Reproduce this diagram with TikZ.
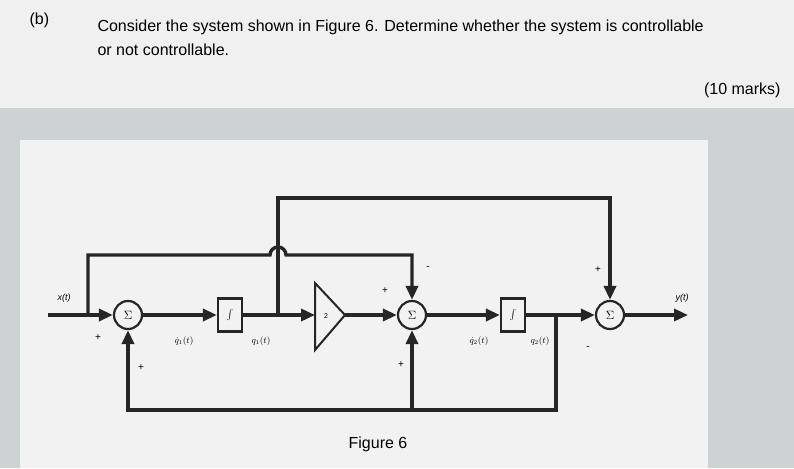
\documentclass[tikz,border=0pt]{standalone}
\usepackage{fontspec}
\setmainfont{Liberation Sans}
\usetikzlibrary{arrows.meta,shapes.geometric}
\begin{document}
\begin{tikzpicture}[x=1pt,y=-1pt,
  wire/.style={line width=3.4pt,draw=black!85},
  arr/.style={wire,-{Triangle[length=14pt,width=12pt]}},
  sumnode/.style={circle,draw=black!85,line width=2.2pt,minimum size=28pt,inner sep=0pt,font=\fontsize{13}{13}\selectfont,fill=gray!10},
  intbox/.style={draw=black!85,line width=2.2pt,minimum width=24pt,minimum height=33pt,inner sep=0pt,font=\fontsize{20}{20}\selectfont,fill=gray!10},
  sig/.style={font=\fontsize{10}{10}\selectfont,inner sep=1pt},
  lab/.style={font=\fontsize{9}{9}\selectfont\itshape,inner sep=1pt}]
\useasboundingbox (0,0) rectangle (794,468);
\fill[gray!12] (0,0) rectangle (794,108);
\fill[teal!10!gray!35] (0,108) rectangle (794,468);
\fill[gray!10] (20,140) rectangle (708,468);
\node[anchor=west,font=\fontsize{16}{19}\selectfont] (b) at (26,20) {(b)};
\node[anchor=west,font=\fontsize{16}{19}\selectfont] (t1) at (94,27) {Consider the system shown in Figure 6. Determine whether the system is controllable};
\node[anchor=west,font=\fontsize{16}{19}\selectfont] (t2) at (94,50) {or not controllable.};
\node[anchor=east,font=\fontsize{16}{19}\selectfont] (mk) at (784,90) {(10 marks)};

\coordinate (in) at (48,315);
\coordinate (bi) at (88,315);
\node[sumnode] (s1) at (128,315) {$\Sigma$};
\node[intbox] (i1) at (230,315) {$\int$};
\coordinate (b1) at (278,315);
\coordinate (gin) at (315,315);
\coordinate (gout) at (345,315);
\draw[draw=black!85,line width=2pt,fill=gray!10] (315,283) -- (gout) -- (315,350) -- cycle;
\node[font=\fontsize{7}{7}\selectfont] (gl) at (326,316) {2};
\node[sumnode] (s2) at (412,315) {$\Sigma$};
\node[intbox] (i2) at (513,315) {$\int$};
\coordinate (b2) at (556,315);
\node[sumnode] (s3) at (610,315) {$\Sigma$};
\coordinate (out) at (688,315);

\draw[wire] (in) -- (bi);
\draw[arr] (bi) -- (s1);
\draw[arr] (s1) -- (i1);
\draw[wire] (i1) -- (b1);
\draw[arr] (b1) -- (gin);
\draw[arr] (gout) -- (s2);
\draw[arr] (s2) -- (i2);
\draw[wire] (i2) -- (b2);
\draw[arr] (b2) -- (s3);
\draw[arr] (s3) -- (out);
\draw[arr] (bi) -- (88,255) -- (270,255) arc[start angle=180,end angle=360,radius=8] -- (412,255) -- (s2);
\draw[arr] (b1) -- (278,198) -- (610,198) -- (s3);
\draw[arr] (b2) -- (556,410) -- (128,410) -- (s1);
\draw[arr] (412,410) -- (s2);

\node[lab] (lx) at (64,298) {x(t)};
\node[lab] (ly) at (682,298) {y(t)};
\node[lab] (l1) at (184,341) {$\dot q_1(t)$};
\node[lab] (l2) at (261,341) {$q_1(t)$};
\node[lab] (l3) at (479,341) {$\dot q_2(t)$};
\node[lab] (l4) at (540,341) {$q_2(t)$};
\node[sig] at (98,338) {+};
\node[sig] at (141,368) {+};
\node[sig] at (385,291) {+};
\node[sig] at (428,268) {-};
\node[sig] at (401,365) {+};
\node[sig] at (598,270) {+};
\node[sig] at (588,348) {-};
\node[font=\fontsize{16}{19}\selectfont] (fig) at (378,444) {Figure 6};
\end{tikzpicture}
\end{document}
